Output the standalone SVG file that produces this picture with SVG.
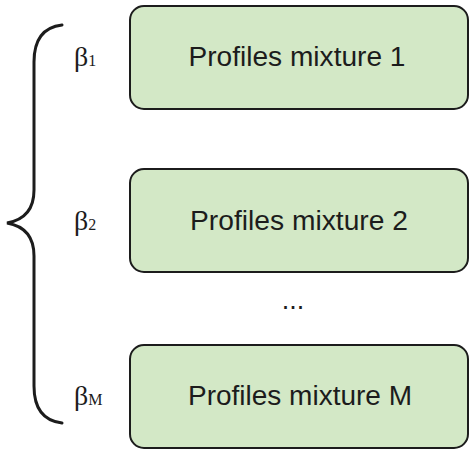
<svg xmlns="http://www.w3.org/2000/svg" width="474" height="455" viewBox="0 0 474 455">
<style>
.box{fill:#d3e8c6;stroke:#1c1c1c;stroke-width:2}
.lbl{font-family:"Liberation Sans",Arial,sans-serif;font-size:27px;fill:#1c1c1c;text-anchor:middle}
.beta{font-family:"Liberation Serif","Times New Roman",serif;font-size:28px;fill:#1c1c1c}
.sub{font-size:16px}
.brace{fill:none;stroke:#1c1c1c;stroke-width:3;stroke-linecap:round}
</style>
<rect width="474" height="455" fill="#ffffff"/>
<g id="brace">
<path class="brace" d="M62,25 C45,27 34,38 34,62 L34,190 C34,210 24,220 7,223 C24,226 34,236 34,256 L34,386 C34,410 45,421 62,423"/>
</g>
<g id="node1">
<rect class="box" x="130" y="6" width="338" height="103" rx="14"/>
<text class="lbl" x="297" y="66" textLength="217" lengthAdjust="spacingAndGlyphs">Profiles mixture 1</text>
<text class="beta" x="74" y="66">β<tspan class="sub">1</tspan></text>
</g>
<g id="node2">
<rect class="box" x="130" y="169" width="338" height="103" rx="14"/>
<text class="lbl" x="299" y="230" textLength="218" lengthAdjust="spacingAndGlyphs">Profiles mixture 2</text>
<text class="beta" x="74" y="230">β<tspan class="sub">2</tspan></text>
</g>
<g id="ellipsis">
<text class="lbl" x="293" y="309">...</text>
</g>
<g id="nodeM">
<rect class="box" x="130" y="345" width="338" height="103" rx="14"/>
<text class="lbl" x="300" y="405" textLength="224" lengthAdjust="spacingAndGlyphs">Profiles mixture M</text>
<text class="beta" x="74" y="405">β<tspan class="sub">M</tspan></text>
</g>
<g id="connectors"></g>
</svg>
